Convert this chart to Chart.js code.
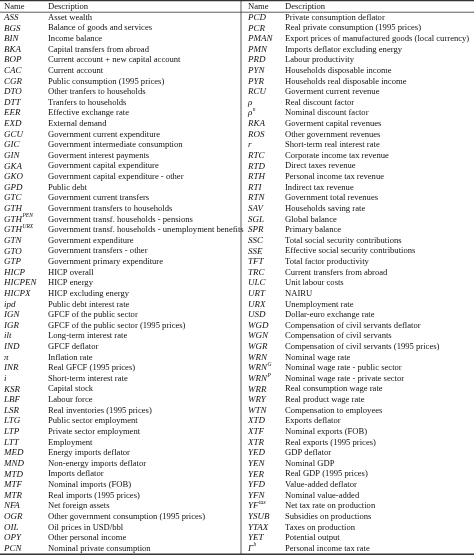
<!DOCTYPE html>
<html>
<head>
<meta charset="utf-8">
<script src="https://cdn.jsdelivr.net/npm/chart.js@4"></script>
<style>
  html, body { margin: 0; padding: 0; background: #fff; }
  #wrap { width: 474px; height: 557px; }
</style>
</head>
<body>
<div id="wrap"><canvas id="tabla"></canvas></div>
<script>
// Cabeceras de las columnas
const headers = ['Name', 'Description'];

// Columna izquierda: nombres y descripciones (^ marca superíndice)
const leftNames = ['ASS','BGS','BIN','BKA','BOP','CAC','CGR','DTO','DTT','EER','EXD','GCU','GIC','GIN','GKA','GKO','GPD','GTC','GTH','GTH^PEN','GTH^URX','GTN','GTO','GTP','HICP',
  'HICPEN','HICPX','ipd','IGN','IGR','ilt','IND','π','INR','i','KSR','LBF','LSR','LTG','LTP','LTT','MED','MND','MTD','MTF','MTR','NFA','OGR','OIL','OPY','PCN'];
const leftDescs = ['Asset wealth','Balance of goods and services','Income balance','Capital transfers from abroad','Current account + new capital account','Current account','Public consumption (1995 prices)','Other tranfers to households','Tranfers to households','Effective exchange rate','External demand','Government current expenditure','Government intermediate consumption','Goverment interest payments','Government capital expenditure','Government capital expenditure - other','Public debt','Government current transfers','Government transfers to households','Government transf. households - pensions','Government transf. households - unemployment benefits','Government expenditure','Government transfers - other','Government primary expenditure','HICP overall',
  'HICP energy','HICP excluding energy','Public debt interest rate','GFCF of the public sector','GFCF of the public sector (1995 prices)','Long-term interest rate','GFCF deflator','Inflation rate','Real GFCF (1995 prices)','Short-term interest rate','Capital stock','Labour force','Real inventories (1995 prices)','Public sector employment','Private sector employment','Employment','Energy imports deflator','Non-energy imports deflator','Imports deflator','Nominal imports (FOB)','Real imports (1995 prices)','Net foreign assets','Other government consumption (1995 prices)','Oil prices in USD/bbl','Other personal income','Nominal private consumption'];

// Columna derecha
const rightNames = ['PCD','PCR','PMAN','PMN','PRD','PYN','PYR','RCU','ρ','ρ^n','RKA','ROS','r','RTC','RTD','RTH','RTI','RTN','SAV','SGL','SPR','SSC','SSE','TFT','TRC',
  'ULC','URT','URX','USD','WGD','WGN','WGR','WRN','WRN^G','WRN^P','WRR','WRY','WTN','XTD','XTF','XTR','YED','YEN','YER','YFD','YFN','YF^tax','YSUB','YTAX','YET','Γ^h'];
const rightDescs = ['Private consumption deflator','Real private consumption (1995 prices)','Export prices of manufactured goods (local currency)','Imports deflator excluding energy','Labour productivity','Households disposable income','Households real disposable income','Goverment current revenue','Real discount factor','Nominal discount factor','Goverment capital revenues','Other government revenues','Short-term real interest rate','Corporate income tax revenue','Direct taxes revenue','Personal income tax revenue','Indirect tax revenue','Government total revenues','Households saving rate','Global balance','Primary balance','Total social security contributions','Effective social security contributions','Total factor productivity','Current transfers from abroad',
  'Unit labour costs','NAIRU','Unemployment rate','Dollar-euro exchange rate','Compensation of civil servants deflator','Compensation of civil servants','Compensation of civil servants (1995 prices)','Nominal wage rate','Nominal wage rate - public sector','Nominal wage rate - private sector','Real consumption wage rate','Real product wage rate','Compensation to employees','Exports deflator','Nominal exports (FOB)','Real exports (1995 prices)','GDP deflator','Nominal GDP','Real GDP (1995 prices)','Value-added deflator','Nominal value-added','Net tax rate on production','Subsidies on productions','Taxes on production','Potential output','Personal income tax rate'];

const SERIF = '"Liberation Serif", "DejaVu Serif", serif';

// Dibuja un nombre con posible superíndice
function drawName(ctx, txt, x, y) {
  const parts = txt.split('^');
  ctx.font = 'italic 9px ' + SERIF;
  ctx.fillText(parts[0], x, y);
  if (parts.length > 1) {
    const w = ctx.measureText(parts[0]).width;
    ctx.font = 'italic 5.5px ' + SERIF;
    ctx.fillText(parts[1], x + w + 0.5, y - 3.5);
  }
}

// Plugin que escribe la tabla usando las escalas del gráfico
const tablaPlugin = {
  id: 'tabla',
  afterDraw(chart) {
    const ctx = chart.ctx, xs = chart.scales.x, ys = chart.scales.y;
    ctx.save();
    ctx.fillStyle = '#111';
    ctx.textBaseline = 'middle';
    const cols = [
      { names: leftNames, descs: leftDescs, xn: 4, xd: 48 },
      { names: rightNames, descs: rightDescs, xn: 248, xd: 285 }
    ];
    cols.forEach(c => {
      ctx.font = '8.6px ' + SERIF;
      ctx.fillText(headers[0], xs.getPixelForValue(c.xn), ys.getPixelForValue(-1));
      ctx.fillText(headers[1], xs.getPixelForValue(c.xd), ys.getPixelForValue(-1));
      c.names.forEach((n, i) => {
        const y = ys.getPixelForValue(i);
        drawName(ctx, n, xs.getPixelForValue(c.xn), y);
        ctx.font = '8.6px ' + SERIF;
        ctx.fillText(c.descs[i], xs.getPixelForValue(c.xd), y);
      });
    });
    // Líneas de la tabla
    ctx.strokeStyle = '#333';
    const yTop = ys.getPixelForValue(-1.6), yHead = ys.getPixelForValue(-0.5), yBot = ys.getPixelForValue(50.55);
    ctx.lineWidth = 1.5;
    ctx.beginPath(); ctx.moveTo(0, yTop); ctx.lineTo(474, yTop); ctx.stroke();
    ctx.beginPath(); ctx.moveTo(0, yBot); ctx.lineTo(474, yBot); ctx.stroke();
    ctx.lineWidth = 0.8;
    ctx.beginPath(); ctx.moveTo(0, yHead); ctx.lineTo(474, yHead); ctx.stroke();
    ctx.beginPath(); ctx.moveTo(xs.getPixelForValue(241), yTop); ctx.lineTo(xs.getPixelForValue(241), yBot); ctx.stroke();
    ctx.restore();
  }
};

const puntos = leftNames.map((n, i) => ({ x: 4, y: i }));

new Chart(document.getElementById('tabla'), {
  type: 'scatter',
  data: { datasets: [{ data: puntos, pointRadius: 0 }] },
  options: {
    responsive: true,
    maintainAspectRatio: false,
    animation: false,
    layout: { padding: 0 },
    plugins: { legend: { display: false }, tooltip: { enabled: false } },
    scales: {
      x: { type: 'linear', min: 0, max: 474, display: false },
      y: { type: 'linear', reverse: true, min: -1.65, max: 50.8, display: false }
    }
  },
  plugins: [tablaPlugin]
});
</script>
</body>
</html>
